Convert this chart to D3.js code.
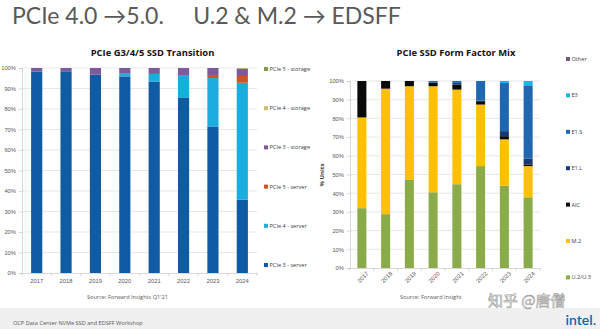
<!DOCTYPE html>
<meta charset="utf-8">
<style>
body { margin: 0; background: #fff; }
svg { display: block; font-family: "Open Sans", "Liberation Sans", sans-serif; }
.tick text { fill: #595959; }
.grid line { stroke: #d9d9d9; stroke-width: 0.6; }
.axis path, .axis line { stroke: #bfbfbf; stroke-width: 0.6; }
</style>
<svg width="600" height="329"></svg>
<script src="https://cdn.jsdelivr.net/npm/d3@7/dist/d3.min.js"></script>
<script>
var years = ["2017", "2018", "2019", "2020", "2021", "2022", "2023", "2024"];

// left chart: PCIe generation mix (%), bottom to top
var genSeries = ["PCIe 3 - server", "PCIe 4 - server", "PCIe 5 - server",
                 "PCIe 3 - storage", "PCIe 4 - storage", "PCIe 5 - storage"];
var pcie3Server  = [98.3, 98.4, 96.7, 95.9, 93.4, 85.4, 71.5, 35.8];
var pcie4Server  = [0, 0, 0, 1.3, 3.7, 11.2, 23.6, 57.0];
var pcie5Server  = [0, 0, 0, 0, 0, 0, 1.5, 3.3];
var pcie3Storage = [1.7, 1.6, 3.3, 2.8, 2.9, 3.4, 3.4, 3.6];
var pcie4Storage = [0, 0, 0, 0, 0, 0, 0, 0.2];
var pcie5Storage = [0, 0, 0, 0, 0, 0, 0, 0.1];
var genColors = ["#0f5ba4", "#1badde", "#c8582a", "#7d5a9c", "#cbbf6c", "#7f9a48"];

// right chart: form factor mix (%), bottom to top
var ffSeries = ["U.2/U.3", "M.2", "AIC", "E1.L", "E1.S", "E3", "Other"];
var u2u3  = [32.0, 28.8, 47.1, 40.5, 44.8, 54.5, 43.9, 37.8];
var m2    = [48.5, 67.1, 50.1, 56.7, 50.6, 32.9, 24.9, 16.7];
var aic   = [19.5, 4.1, 2.8, 2.0, 2.7, 1.8, 1.7, 0.9];
var e1l   = [0, 0, 0, 0, 0.9, 0.4, 2.7, 3.2];
var e1s   = [0, 0, 0, 0.8, 1.0, 10.4, 25.7, 39.1];
var e3    = [0, 0, 0, 0, 0, 0, 1.1, 2.3];
var other = [0, 0, 0, 0, 0, 0, 0, 0];
var ffColors = ["#8aab4a", "#ffc000", "#0a0a0a", "#173b70", "#1f68b0", "#18b4ea", "#6d5a7e"];

var pctTicks = [0, 10, 20, 30, 40, 50, 60, 70, 80, 90, 100];

var svg = d3.select("svg");

// header
svg.append("text")
    .attr("x", 12).attr("y", 24)
    .attr("font-family", "Lato, sans-serif")
    .attr("font-size", 23)
    .attr("fill", "#595959")
    .attr("xml:space", "preserve")
    .text("PCIe 4.0 \u21925.0.     U.2 & M.2 \u2192 EDSFF");

// footer band
svg.append("rect")
    .attr("x", 0).attr("y", 308).attr("width", 600).attr("height", 21)
    .attr("fill", "#f0f0f0");
svg.append("text")
    .attr("x", 13).attr("y", 325)
    .attr("font-size", 5.6).attr("fill", "#595959")
    .text("OCP Data Center NVMe SSD and EDSFF Workshop");
svg.append("text")
    .attr("x", 596).attr("y", 325)
    .attr("text-anchor", "end")
    .attr("font-family", "Lato, sans-serif")
    .attr("font-size", 14).attr("font-weight", 600)
    .attr("fill", "#0068b5")
    .text("intel.");

function rowsFrom(cols, arrays) {
  return years.map(function(y, i) {
    var r = {year: y};
    cols.forEach(function(c, j) { r[c] = arrays[j][i] / 100; });
    return r;
  });
}

function drawChart(o) {
  var x = d3.scaleBand().domain(years).range([o.x0, o.x1]).paddingInner(0.62).paddingOuter(0.31);
  var y = d3.scaleLinear().domain([0, 1]).range([o.y0, o.y1]);
  var g = svg.append("g");

  g.append("g").attr("class", "grid")
    .selectAll("line").data(pctTicks.slice(1)).enter().append("line")
      .attr("x1", o.x0).attr("x2", o.x1)
      .attr("y1", function(d) { return y(d / 100); })
      .attr("y2", function(d) { return y(d / 100); });

  var yAxis = g.append("g").attr("class", "axis")
      .attr("transform", "translate(" + o.x0 + ",0)")
      .call(d3.axisLeft(y).tickValues(pctTicks.map(function(d) { return d / 100; }))
        .tickFormat(d3.format(".0%")).tickSize(3).tickPadding(3));
  yAxis.selectAll("text").attr("font-size", 5.8);

  var series = d3.stack().keys(o.keys)(rowsFrom(o.keys, o.arrays));
  g.selectAll(".layer").data(series).enter().append("g")
      .attr("fill", function(d, i) { return o.colors[i]; })
    .selectAll("rect").data(function(d) { return d; }).enter().append("rect")
      .attr("x", function(d) { return x(d.data.year); })
      .attr("width", x.bandwidth())
      .attr("y", function(d) { return y(d[1]); })
      .attr("height", function(d) { return Math.max(0, y(d[0]) - y(d[1])); });

  var xAxis = g.append("g").attr("class", "axis")
      .attr("transform", "translate(0," + o.y0 + ")")
      .call(d3.axisBottom(x).tickSize(0).tickPadding(o.rotate ? 4 : 6));
  xAxis.selectAll("text").attr("font-size", 5.8);
  if (o.rotate) {
    xAxis.selectAll("text")
      .attr("text-anchor", "end")
      .attr("dy", "0.3em")
      .attr("transform", "translate(3,2) rotate(-45)");
  }
  // tick marks between categories
  xAxis.selectAll(".sep").data(d3.range(years.length + 1)).enter().append("line")
      .attr("x1", function(i) { return o.x0 + i * x.step(); })
      .attr("x2", function(i) { return o.x0 + i * x.step(); })
      .attr("y1", 0).attr("y2", 3);

  g.append("text")
      .attr("x", (o.x0 + o.x1) / 2 + o.titleDx).attr("y", 56)
      .attr("text-anchor", "middle")
      .attr("font-size", 9.4).attr("font-weight", "bold").attr("fill", "#111")
      .text(o.title);

  g.append("text")
      .attr("x", o.srcX).attr("y", 299)
      .attr("font-size", 5.6).attr("fill", "#595959")
      .text(o.source);

  var leg = g.selectAll(".leg").data(o.keys.slice().reverse()).enter().append("g")
      .attr("transform", function(d, i) { return "translate(" + o.legX + "," + (o.legY + i * o.legStep) + ")"; });
  leg.append("rect")
      .attr("x", 0).attr("y", -2).attr("width", 4).attr("height", 4)
      .attr("fill", function(d) { return o.colors[o.keys.indexOf(d)]; });
  leg.append("text")
      .attr("x", 5.5).attr("y", 2)
      .attr("font-size", 5.6).attr("fill", "#404040")
      .text(function(d) { return d; });
  return g;
}

drawChart({
  x0: 22, x1: 257, y0: 273, y1: 68,
  keys: genSeries,
  arrays: [pcie3Server, pcie4Server, pcie5Server, pcie3Storage, pcie4Storage, pcie5Storage],
  colors: genColors,
  title: "PCIe G3/4/5 SSD Transition", titleDx: 13,
  source: "Source: Forward Insights Q1'21", srcX: 87,
  legX: 264, legY: 69, legStep: 39.2
});

var right = drawChart({
  x0: 350, x1: 540, y0: 268, y1: 81,
  keys: ffSeries,
  arrays: [u2u3, m2, aic, e1l, e1s, e3, other],
  colors: ffColors,
  title: "PCIe SSD Form Factor Mix", titleDx: 11,
  source: "Source: Forward Insight", srcX: 400,
  legX: 566, legY: 59, legStep: 36.4,
  rotate: true
});

right.append("text")
    .attr("transform", "translate(324,175) rotate(-90)")
    .attr("text-anchor", "middle")
    .attr("font-size", 6).attr("font-weight", "bold").attr("fill", "#404040")
    .text("% Units");

// watermark
svg.append("text")
    .attr("x", 488).attr("y", 306)
    .attr("font-family", "Noto Sans CJK SC, sans-serif")
    .attr("font-size", 15)
    .attr("fill", "#ffffff").attr("stroke", "#9a9a9a").attr("stroke-width", 0.6)
    .text("知乎 @唐僧");
</script>
